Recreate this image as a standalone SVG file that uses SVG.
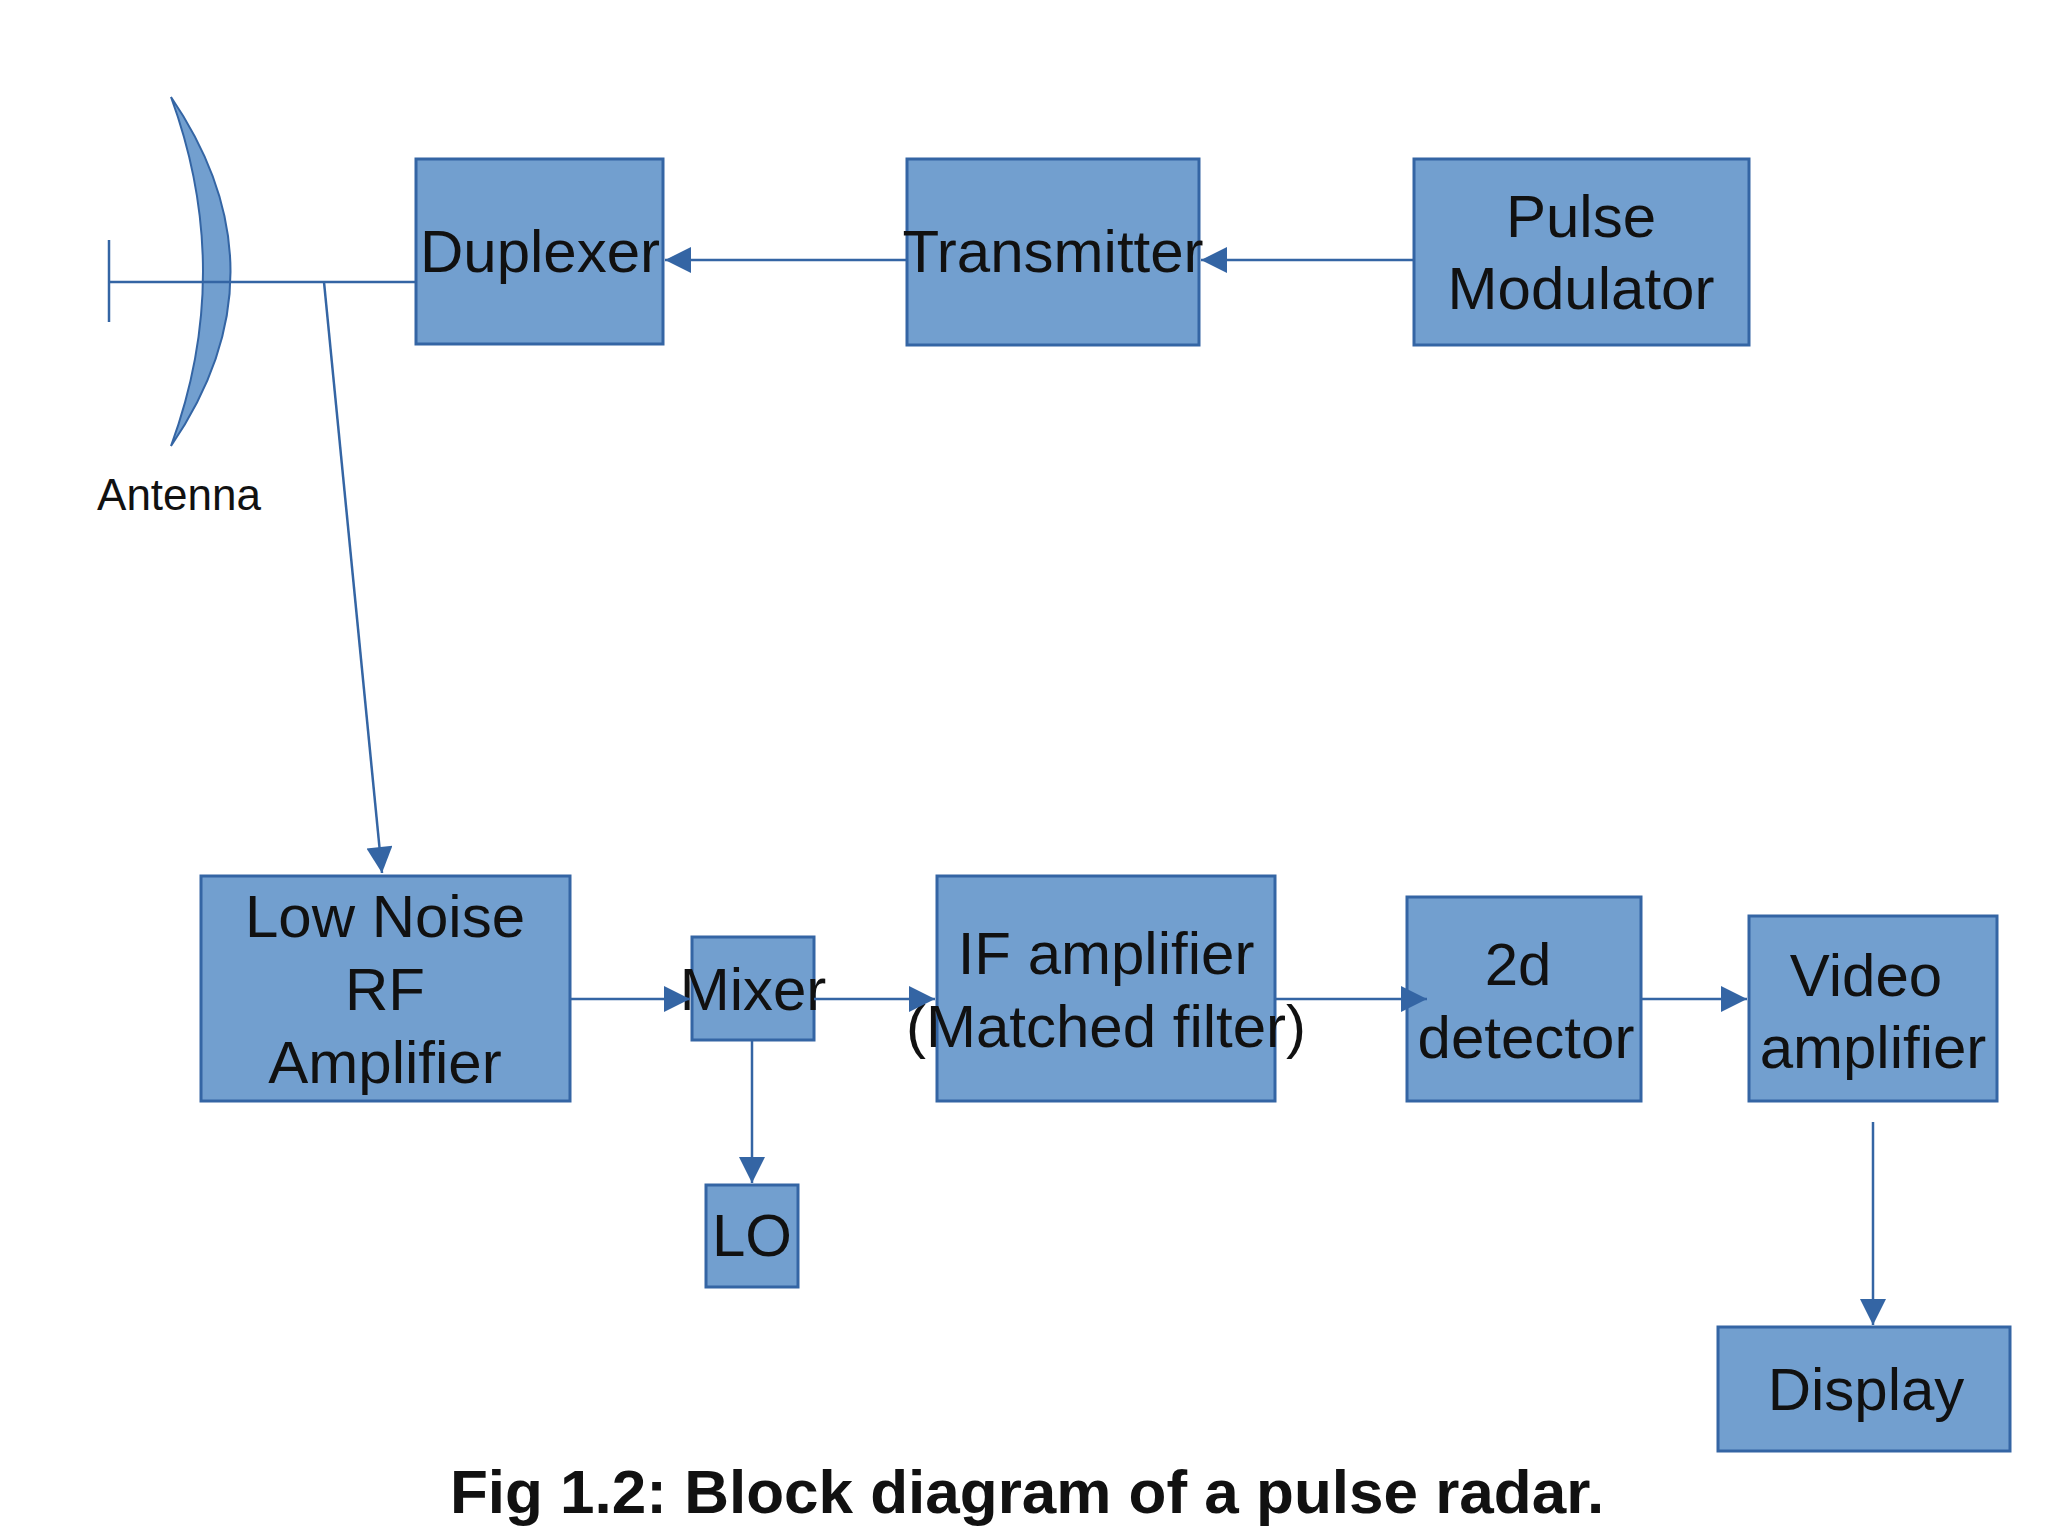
<svg xmlns="http://www.w3.org/2000/svg" width="2048" height="1536" viewBox="0 0 2048 1536">
<style>
.b{fill:#729fcf;stroke:#3465a4;stroke-width:3}
.t{font-family:"Liberation Sans Narrow","Liberation Sans",sans-serif;font-size:60px;fill:#111;text-anchor:middle}
.c{stroke:#3465a4;stroke-width:2.5;fill:none}
</style>
<defs><marker id="a" markerWidth="12" markerHeight="10" refX="11" refY="5" orient="auto" markerUnits="userSpaceOnUse"><path d="M0,0 L12,5 L0,10 Z" fill="#3465a4" transform="scale(2.3) translate(-6.5,-2.8)"/></marker>
<marker id="m" viewBox="0 0 10 10" markerWidth="30" markerHeight="26" refX="10" refY="5" orient="auto" markerUnits="userSpaceOnUse"><path d="M0,0 L10,5 L0,10 Z" fill="#3465a4"/></marker></defs>
<rect width="2048" height="1536" fill="#fff"/>
<g id="antenna"><path d="M171,97 Q290,272 171,446 Q235,272 171,97 Z" fill="#729fcf" stroke="#3465a4" stroke-width="2"/>
<line x1="109" y1="240" x2="109" y2="322" class="c"/>
<text x="179" y="510" font-family="Liberation Sans Narrow,Liberation Sans,sans-serif" font-size="44" text-anchor="middle" fill="#111">Antenna</text></g>
<g id="duplexer"><rect class="b" x="416" y="159" width="247" height="185"/><text class="t" x="540" y="272">Duplexer</text></g>
<g id="transmitter"><rect class="b" x="907" y="159" width="292" height="186"/><text class="t" x="1053" y="272">Transmitter</text></g>
<g id="pulse"><rect class="b" x="1414" y="159" width="335" height="186"/><text class="t" x="1581" y="237">Pulse</text><text class="t" x="1581" y="309">Modulator</text></g>
<g id="lna"><rect class="b" x="201" y="876" width="369" height="225"/><text class="t" x="385" y="937">Low Noise</text><text class="t" x="385" y="1010">RF</text><text class="t" x="385" y="1083">Amplifier</text></g>
<g id="mixer"><rect class="b" x="692" y="937" width="122" height="103"/><text class="t" x="753" y="1010">Mixer</text></g>
<g id="if"><rect class="b" x="937" y="876" width="338" height="225"/><text class="t" x="1106" y="974">IF amplifier</text><text class="t" x="1106" y="1047">(Matched filter)</text></g>
<g id="det"><rect class="b" x="1407" y="897" width="234" height="204"/><text class="t" x="1518" y="985">2d</text><text class="t" x="1526" y="1058">detector</text></g>
<g id="video"><rect class="b" x="1749" y="916" width="248" height="185"/><text class="t" x="1866" y="996">Video</text><text class="t" x="1873" y="1068">amplifier</text></g>
<g id="display"><rect class="b" x="1718" y="1327" width="292" height="124"/><text class="t" x="1866" y="1410">Display</text></g>
<g id="lo"><rect class="b" x="706" y="1185" width="92" height="102"/><text class="t" x="752" y="1256">LO</text></g>
<g id="connectors">
<line class="c" x1="109" y1="282" x2="416" y2="282"/>
<line class="c" x1="324" y1="282" x2="382" y2="873" marker-end="url(#m)"/>
<line class="c" x1="907" y1="260" x2="665" y2="260" marker-end="url(#m)"/>
<line class="c" x1="1414" y1="260" x2="1201" y2="260" marker-end="url(#m)"/>
<line class="c" x1="570" y1="999" x2="690" y2="999" marker-end="url(#m)"/>
<line class="c" x1="814" y1="999" x2="935" y2="999" marker-end="url(#m)"/>
<line class="c" x1="1275" y1="999" x2="1427" y2="999" marker-end="url(#m)"/>
<line class="c" x1="1641" y1="999" x2="1747" y2="999" marker-end="url(#m)"/>
<line class="c" x1="752" y1="1040" x2="752" y2="1183" marker-end="url(#m)"/>
<line class="c" x1="1873" y1="1122" x2="1873" y2="1325" marker-end="url(#m)"/>
</g>
<text x="1027" y="1513" font-family="Liberation Sans Narrow,Liberation Sans,sans-serif" font-weight="bold" font-size="62" text-anchor="middle" fill="#111">Fig 1.2: Block diagram of a pulse radar.</text>
</svg>
